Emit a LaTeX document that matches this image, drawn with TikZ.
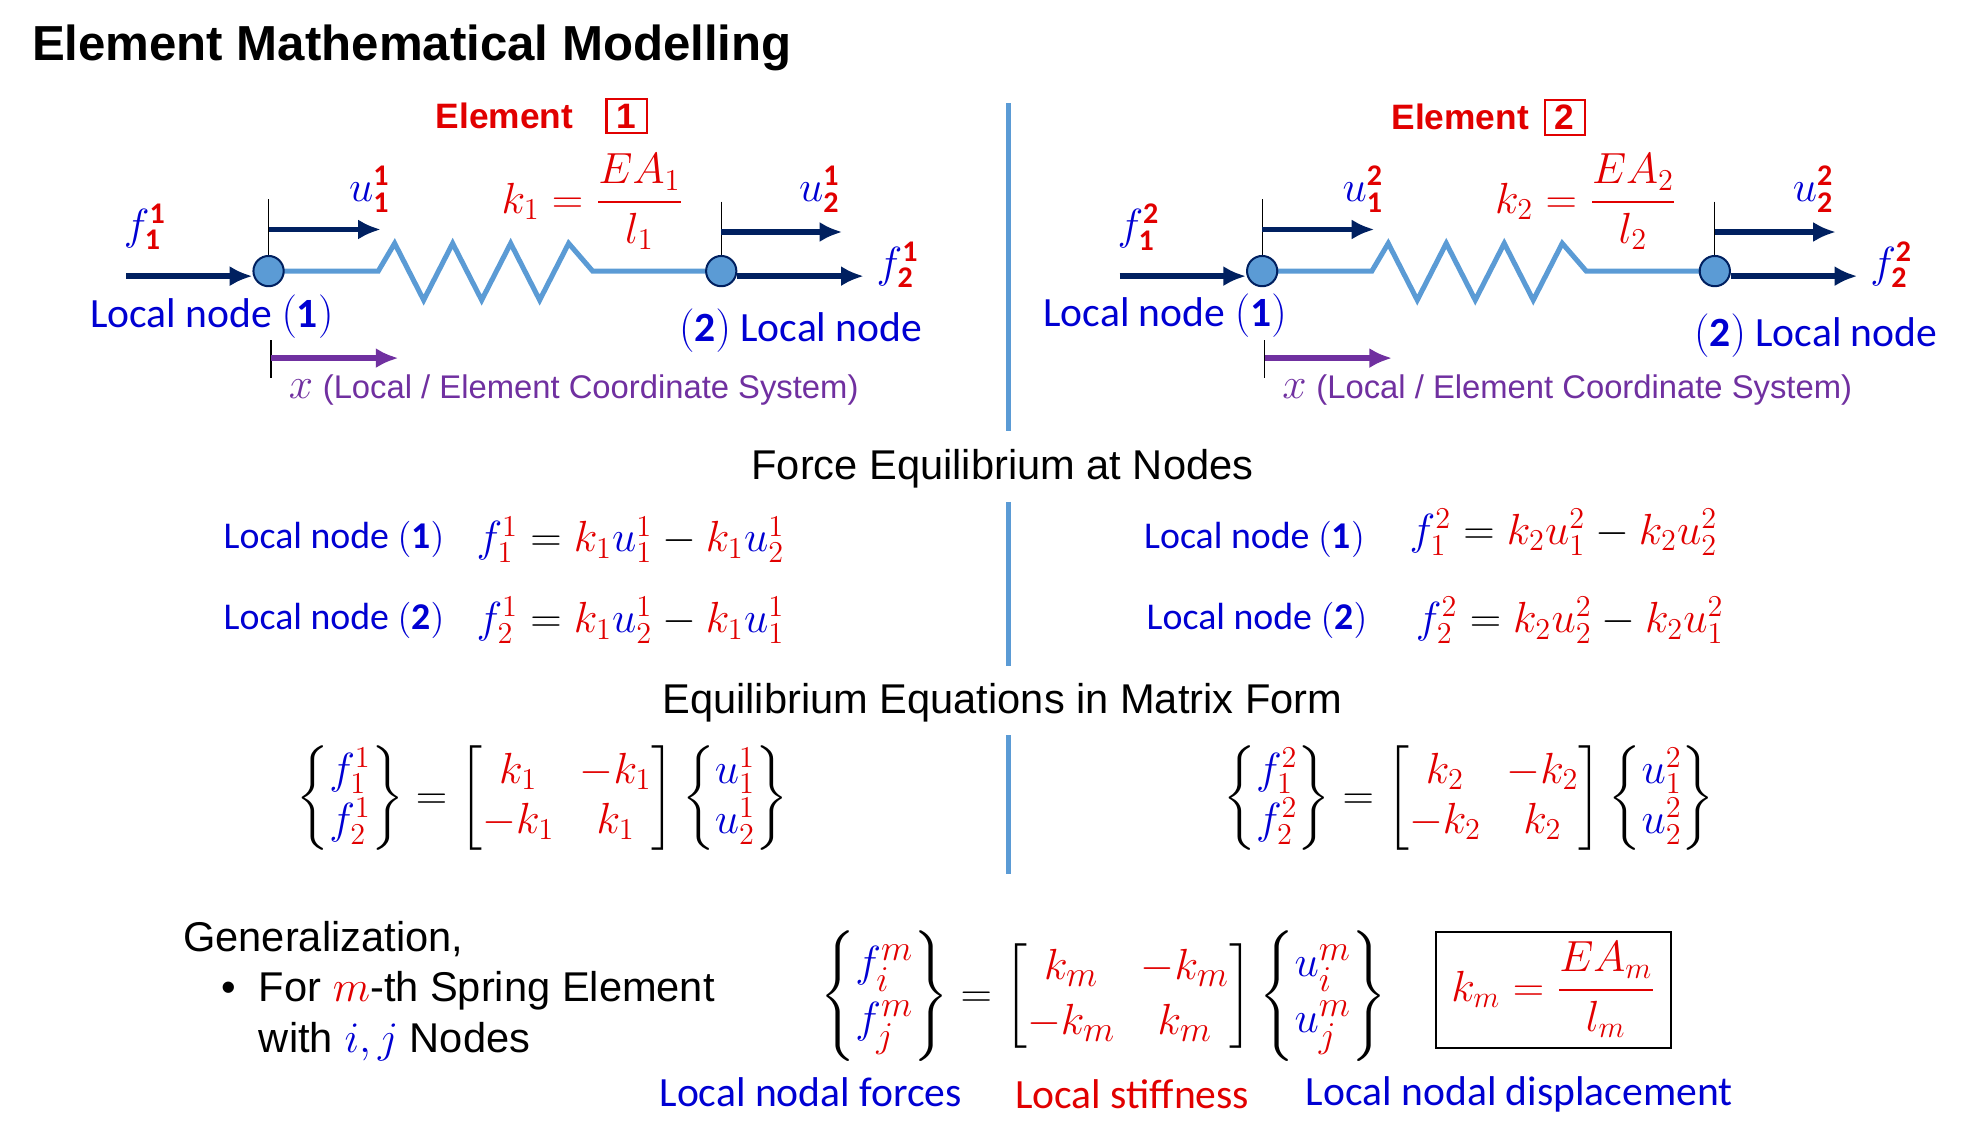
\documentclass[tikz,border=0pt]{standalone}
\usepackage{amsmath}
\usepackage{fontspec}
\setmainfont{Carlito}
\newfontfamily\arialf{Liberation Sans}
\usetikzlibrary{arrows.meta}
\definecolor{navy}{RGB}{0,32,96}
\definecolor{lblue}{RGB}{91,155,213}
\definecolor{tblue}{RGB}{0,0,210}
\definecolor{tred}{RGB}{225,0,0}
\definecolor{purp}{RGB}{112,48,160}
\begin{document}
\begin{tikzpicture}[x=0.5pt,y=-0.5pt,
  farrow/.style={navy,line width=2.2pt,-{Latex[length=9pt,width=8pt]}},
  parrow/.style={purp,line width=2.2pt,-{Latex[length=9pt,width=8pt]}},
  tick/.style={black,line width=0.5pt},
  spring/.style={lblue,line width=2pt},
  bead/.style={circle,fill=lblue,draw=navy,line width=0.8pt,minimum size=12pt,inner sep=0pt},
  lbl/.style={font=\fontsize{15}{18}\selectfont,text=tblue,inner sep=0pt},
  tlbl/.style={font=\fontsize{16.5}{19}\selectfont,text=tblue,inner sep=0pt},
  hdr/.style={font=\arialf\fontsize{16.5}{19}\selectfont,inner sep=0pt},
  elt/.style={font=\arialf\bfseries\fontsize{14}{17}\selectfont,text=tred,inner sep=0pt},
  eq/.style={font=\fontsize{17}{20}\selectfont,inner sep=0pt},
  divider/.style={lblue,line width=2pt}]
\useasboundingbox (0,0) rectangle (1560,904);
\node[font=\arialf\bfseries\fontsize{19.5}{22}\selectfont,anchor=west,inner sep=0pt] (title) at (25,38) {Element Mathematical Modelling};
\draw[divider] (800,82) -- (800,342);
\draw[divider] (800,398) -- (800,528);
\draw[divider] (800,583) -- (800,693);
\node[elt] (el1) at (400,92) {Element};
\node[elt,draw=tred,line width=0.8pt,inner sep=2pt,minimum width=16pt] (eb1) at (497,92) {1};
\node[elt] (el2) at (1158,93) {Element};
\node[elt,draw=tred,line width=0.8pt,inner sep=2pt,minimum width=16pt] (eb2) at (1241,93) {2};
\foreach \dx/\e in {0/1,788/2}{
\begin{scope}[xshift=\dx*0.5pt]
\draw[tick] (213,158) -- (213,215);
\draw[tick] (572,160) -- (572,215);
\draw[tick] (215,270) -- (215,300);
\draw[spring] (213,215) -- (300,215) -- (313,193) -- (336,238) -- (359,193) -- (382,238) -- (405,193) -- (428,238) -- (451,193) -- (470,215) -- (572,215);
\node[bead] (na\e) at (213,215) {};
\node[bead] (nb\e) at (572,215) {};
\coordinate (fa\e) at (100,219);
\draw[farrow] (fa\e) -- (na\e.west|-fa\e);
\coordinate (fb\e) at (685,219);
\draw[farrow] (nb\e.east|-fb\e) -- (fb\e);
\coordinate (ua\e) at (213,182); \coordinate (uae\e) at (302,182);
\draw[farrow] (ua\e) -- (uae\e);
\coordinate (ub\e) at (572,184); \coordinate (ube\e) at (668,184);
\draw[farrow] (ub\e) -- (ube\e);
\coordinate (xa\e) at (215,284); \coordinate (xae\e) at (316,284);
\draw[parrow] (xa\e) -- (xae\e);
\node[eq] (lf1\e) at (115,180) {$\color{tblue}f_{\mathbf 1}^{\color{tred}\mathbf \e}$};
\node[eq] (lu1\e) at (293,150) {$\color{tblue}u_{\mathbf 1}^{\color{tred}\mathbf \e}$};
\node[eq] (lu2\e) at (650,150) {$\color{tblue}u_{\mathbf 2}^{\color{tred}\mathbf \e}$};
\node[eq] (lf2\e) at (712,210) {$\color{tblue}f_{\mathbf 2}^{\color{tred}\mathbf \e}$};
\node[eq,text=tred,font=\fontsize{18}{21}\selectfont] (k\e) at (470,160) {$k_{\e}=\dfrac{EA_{\e}}{l_{\e}}$};
\node[eq,text=purp] (cs\e) at (455,309) {$x$ {\arialf\fontsize{13}{15}\selectfont (Local / Element Coordinate System)}};
\end{scope}}
\node[tlbl] (ln11) at (168,251) {Local node $\mathbf{(1)}$};
\node[tlbl] (ln21) at (635,262) {$\mathbf{(2)}$ Local node};
\node[tlbl] (ln12) at (924,250) {Local node $\mathbf{(1)}$};
\node[tlbl] (ln22) at (1440,266) {$\mathbf{(2)}$ Local node};
\node[hdr] (feq) at (795,372) {Force Equilibrium at Nodes};
\node[lbl] (a1) at (265,428) {Local node $\mathbf{(1)}$};
\node[lbl] (a2) at (265,492) {Local node $\mathbf{(2)}$};
\node[lbl] (b1) at (995,428) {Local node $\mathbf{(1)}$};
\node[lbl] (b2) at (997,492) {Local node $\mathbf{(2)}$};
\node[eq] (e11) at (500,428) {$\color{tblue}f_1^{\color{tred}1}\color{black}=\color{tred}k_1\color{tblue}u_1^{\color{tred}1}\color{black}-\color{tred}k_1\color{tblue}u_2^{\color{tred}1}$};
\node[eq] (e12) at (500,492) {$\color{tblue}f_2^{\color{tred}1}\color{black}=\color{tred}k_1\color{tblue}u_2^{\color{tred}1}\color{black}-\color{tred}k_1\color{tblue}u_1^{\color{tred}1}$};
\node[eq] (e21) at (1240,422) {$\color{tblue}f_1^{\color{tred}2}\color{black}=\color{tred}k_2u_1^{2}\color{black}-\color{tred}k_2u_2^{2}$};
\node[eq] (e22) at (1245,492) {$\color{tblue}f_2^{\color{tred}2}\color{black}=\color{tred}k_2u_2^{2}\color{black}-\color{tred}k_2u_1^{2}$};
\node[hdr] (meq) at (795,557) {Equilibrium Equations in Matrix Form};
\node[eq] (m1) at (430,633) {$\begin{Bmatrix}\color{tblue}f_1^{\color{tred}1}\\ \color{tblue}f_2^{\color{tred}1}\end{Bmatrix}=\begin{bmatrix}\color{tred}k_1 & \color{tred}-k_1\\ \color{tred}-k_1 & \color{tred}k_1\end{bmatrix}\begin{Bmatrix}\color{tblue}u_1^{\color{tred}1}\\ \color{tblue}u_2^{\color{tred}1}\end{Bmatrix}$};
\node[eq] (m2) at (1165,633) {$\begin{Bmatrix}\color{tblue}f_1^{\color{tred}2}\\ \color{tblue}f_2^{\color{tred}2}\end{Bmatrix}=\begin{bmatrix}\color{tred}k_2 & \color{tred}-k_2\\ \color{tred}-k_2 & \color{tred}k_2\end{bmatrix}\begin{Bmatrix}\color{tblue}u_1^{\color{tred}2}\\ \color{tblue}u_2^{\color{tred}2}\end{Bmatrix}$};
\node[hdr,anchor=west] (gen) at (145,745) {Generalization,};
\node[hdr,anchor=west] (g1) at (175,786) {\textbullet\ \ For {\color{tred}$m$}-th Spring Element};
\node[hdr,anchor=west] (g2) at (205,826) {with {\color{tblue}$i,j$} Nodes};
\node[eq,font=\fontsize{19}{22}\selectfont] (mg) at (875,790) {$\begin{Bmatrix}\color{tblue}f_i^{\color{tred}m}\\ \color{tblue}f_j^{\color{tred}m}\end{Bmatrix}=\begin{bmatrix}\color{tred}k_m & \color{tred}-k_m\\ \color{tred}-k_m & \color{tred}k_m\end{bmatrix}\begin{Bmatrix}\color{tblue}u_i^{\color{tred}m}\\ \color{tblue}u_j^{\color{tred}m}\end{Bmatrix}$};
\node[eq,text=tred,draw=black,line width=0.8pt,minimum width=93pt,minimum height=46pt] (kb) at (1232,785) {$k_m=\dfrac{EA_m}{l_m}$};
\node[tlbl] (lnf) at (643,866) {Local nodal forces};
\node[tlbl,text=tred] (lst) at (898,868) {Local stiffness};
\node[tlbl] (lnd) at (1205,868) {Local nodal displacement};
\end{tikzpicture}
\end{document}
